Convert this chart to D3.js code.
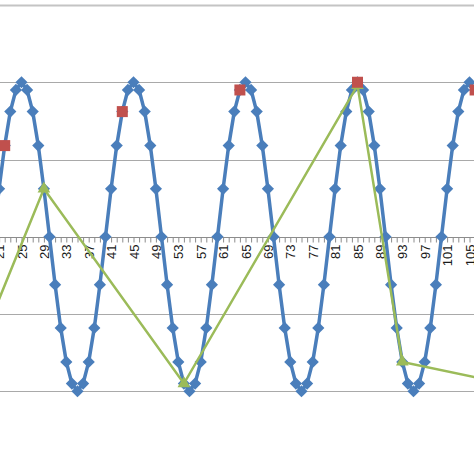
<!DOCTYPE html>
<html>
<head>
<meta charset="utf-8">
<script src="https://cdn.jsdelivr.net/npm/d3@7"></script>
<style>
  html, body { margin: 0; padding: 0; background: #fff; }
  svg { display: block; }
</style>
</head>
<body>
<svg id="chart"></svg>
<script>
// categories shown on the cropped x axis (series run past both edges)
const firstCategory = 20;
const tickLabels = ["21","25","29","33","37","41","45","49","53","57","61","65","69","73","77","81","85","89","93","97","101","105"];

// blue series, one value per category from 20 to 107
const blueValues = [
   0.00,  0.31,  0.59,  0.81,  0.95,  1.00,  0.95,  0.81,  0.59,  0.31,
   0.00, -0.31, -0.59, -0.81, -0.95, -1.00, -0.95, -0.81, -0.59, -0.31,
   0.00,  0.31,  0.59,  0.81,  0.95,  1.00,  0.95,  0.81,  0.59,  0.31,
   0.00, -0.31, -0.59, -0.81, -0.95, -1.00, -0.95, -0.81, -0.59, -0.31,
   0.00,  0.31,  0.59,  0.81,  0.95,  1.00,  0.95,  0.81,  0.59,  0.31,
   0.00, -0.31, -0.59, -0.81, -0.95, -1.00, -0.95, -0.81, -0.59, -0.31,
   0.00,  0.31,  0.59,  0.81,  0.95,  1.00,  0.95,  0.81,  0.59,  0.31,
   0.00, -0.31, -0.59, -0.81, -0.95, -1.00, -0.95, -0.81, -0.59, -0.31,
   0.00,  0.31,  0.59,  0.81,  0.95,  1.00,  0.95,  0.81
];

// red samples (markers only)
const redCategories = [22, 43, 64, 85, 106];
const redValues = [0.59, 0.81, 0.95, 1.00, 0.95];

// green samples (line + triangles)
const greenCategories = [17, 29, 54, 85, 93, 110];
const greenValues = [-0.76, 0.31, -0.95, 0.98, -0.81, -0.94];

const gridValues = [-1, -0.5, 0, 0.5, 1, 1.5];

const width = 474;
const height = 474;

const svg = d3.select('#chart')
    .attr('width', width)
    .attr('height', height);

// scales (plot is cropped, so range runs slightly off the canvas)
const x = d3.scaleLinear()
    .domain([21, 105])
    .range([-0.9, 469.5]);
const y = d3.scaleLinear()
    .domain([-1.5, 1.5])
    .range([468.5, 5]);

// gridlines
svg.append('g')
    .selectAll('line')
    .data(gridValues)
    .enter()
    .append('line')
    .attr('x1', 0)
    .attr('x2', width)
    .attr('y1', d => Math.round(y(d)) + 0.5)
    .attr('y2', d => Math.round(y(d)) + 0.5)
    .attr('stroke', d => d === 1.5 ? '#c4c4c4' : '#a9a9a9')
    .attr('stroke-width', d => d === 1.5 ? 2 : 1);

// x axis at zero with a tick per category
const allCategories = d3.range(firstCategory, firstCategory + blueValues.length);
const xAxis = d3.axisBottom(x)
    .tickValues(allCategories)
    .tickSize(5)
    .tickSizeOuter(0)
    .tickFormat(d => tickLabels.includes(String(d)) ? String(d) : '');

const axisG = svg.append('g')
    .attr('transform', 'translate(0,' + (Math.round(y(0)) + 0.5) + ')')
    .call(xAxis);
axisG.select('.domain').remove();
axisG.append('line')
    .attr('x1', 0).attr('x2', width)
    .attr('stroke', '#8c8c8c');
axisG.selectAll('.tick line').attr('stroke', '#8c8c8c');
axisG.selectAll('text')
    .attr('transform', 'rotate(-90)')
    .attr('x', -7)
    .attr('y', 0)
    .attr('dy', '0.35em')
    .style('text-anchor', 'end')
    .style('font-family', '"Liberation Sans", Arial, sans-serif')
    .style('font-size', '13px')
    .style('fill', '#1a1a1a');

// blue series
const blueData = blueValues.map((v, i) => ({k: firstCategory + i, v: v}));
const line = d3.line().x(d => x(d.k)).y(d => y(d.v));

svg.append('path')
    .datum(blueData)
    .attr('d', line)
    .attr('fill', 'none')
    .attr('stroke', '#4a7ebb')
    .attr('stroke-width', 3.5)
    .attr('stroke-linejoin', 'round');

const diamond = d3.symbol().type(d3.symbolDiamond2).size(95);
svg.selectAll('.blue-pt')
    .data(blueData)
    .enter()
    .append('path')
    .attr('class', 'blue-pt')
    .attr('d', diamond)
    .attr('transform', d => 'translate(' + x(d.k) + ',' + y(d.v) + ')')
    .attr('fill', '#4a7ebb');

// green series
const greenData = greenCategories.map((k, i) => ({k: k, v: greenValues[i]}));
svg.append('path')
    .datum(greenData)
    .attr('d', line)
    .attr('fill', 'none')
    .attr('stroke', '#9bbb59')
    .attr('stroke-width', 2.5);

const triangle = d3.symbol().type(d3.symbolTriangle).size(70);
svg.selectAll('.green-pt')
    .data(greenData)
    .enter()
    .append('path')
    .attr('class', 'green-pt')
    .attr('d', triangle)
    .attr('transform', d => 'translate(' + x(d.k) + ',' + y(d.v) + ')')
    .attr('fill', '#9bbb59');

// red series
const redData = redCategories.map((k, i) => ({k: k, v: redValues[i]}));
svg.selectAll('.red-pt')
    .data(redData)
    .enter()
    .append('rect')
    .attr('class', 'red-pt')
    .attr('x', d => x(d.k) - 5.5)
    .attr('y', d => y(d.v) - 5.5)
    .attr('width', 11)
    .attr('height', 11)
    .attr('fill', '#c0504d');
</script>
</body>
</html>
